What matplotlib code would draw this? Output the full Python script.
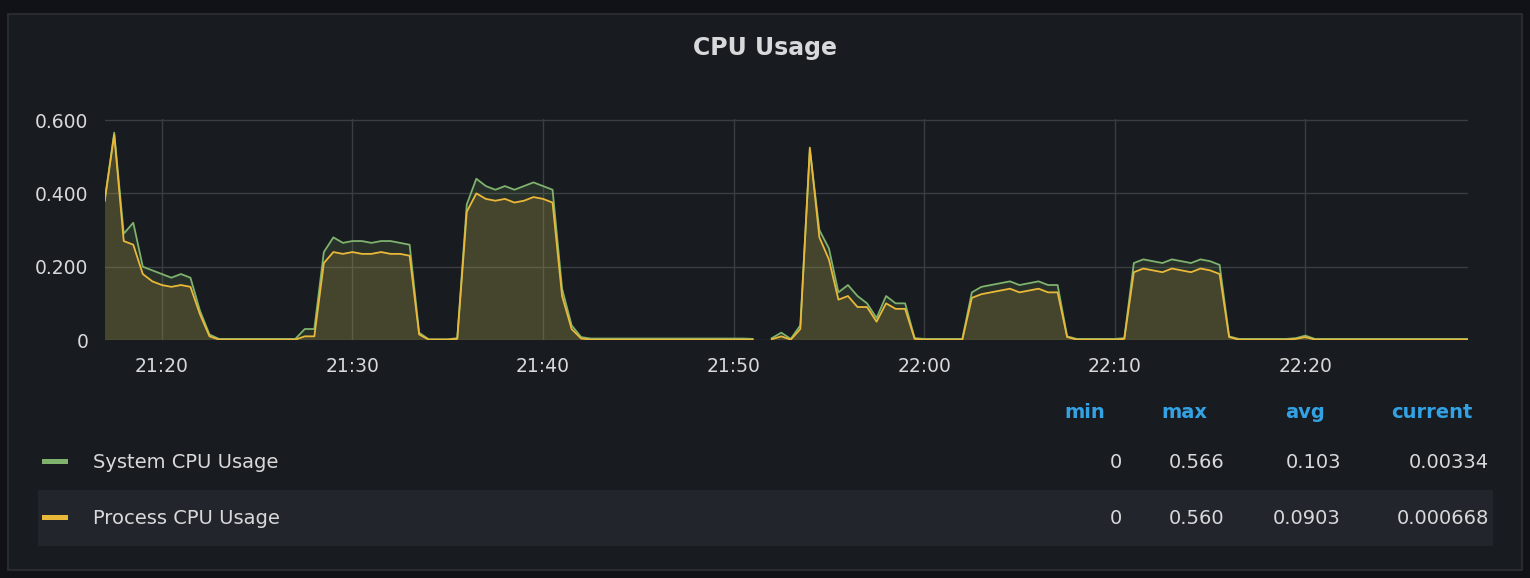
import matplotlib
matplotlib.use("Agg")
import matplotlib.pyplot as plt
import matplotlib.dates as mdates
import numpy as np
import pandas as pd
from matplotlib.patches import Rectangle

nan = float("nan")
start_time = "2021-01-01 21:17:00"
step = "30s"
system_cpu = [0.38, 0.566, 0.29, 0.32, 0.20, 0.19, 0.18, 0.17, 0.18, 0.17,
              0.08, 0.015] + [0.003]*9 + [0.03, 0.03, 0.24, 0.28,
              0.265, 0.27, 0.27, 0.265, 0.27, 0.27, 0.265, 0.26, 0.02,
              0.002, 0.002, 0.002, 0.005, 0.37, 0.44,
              0.42, 0.41, 0.42, 0.41, 0.42, 0.43, 0.42, 0.41, 0.14, 0.04, 0.008] + [0.004]*17 + [
              0.003, nan, 0.005, 0.02, 0.003, 0.04, 0.52, 0.30, 0.25, 0.13, 0.15, 0.12,
              0.10, 0.06, 0.12, 0.10, 0.10, 0.005] + [0.003]*5 + [
              0.13, 0.145, 0.15, 0.155, 0.16, 0.15, 0.155, 0.16, 0.15, 0.15, 0.01] + [0.003]*5 + [
              0.005, 0.21, 0.22, 0.215, 0.21, 0.22, 0.215, 0.21, 0.22, 0.215, 0.205, 0.01] + [0.003]*6 + [
              0.005, 0.012] + [0.003]*17
process_cpu = [0.38, 0.560, 0.27, 0.26, 0.18, 0.16, 0.15, 0.145, 0.15, 0.145,
               0.07, 0.01] + [0.001]*9 + [0.01, 0.01, 0.21, 0.24,
               0.235, 0.24, 0.235, 0.235, 0.24, 0.235, 0.235, 0.23, 0.015,
               0.001, 0.001, 0.001, 0.003, 0.35, 0.40,
               0.385, 0.38, 0.385, 0.375, 0.38, 0.39, 0.385, 0.375, 0.12, 0.03, 0.004] + [0.001]*17 + [
               0.001, nan, 0.002, 0.01, 0.001, 0.03, 0.525, 0.28, 0.22, 0.11, 0.12, 0.09,
               0.09, 0.05, 0.10, 0.085, 0.085, 0.003] + [0.001]*5 + [
               0.115, 0.125, 0.13, 0.135, 0.14, 0.13, 0.135, 0.14, 0.13, 0.13, 0.008] + [0.001]*5 + [
               0.003, 0.185, 0.195, 0.19, 0.185, 0.195, 0.19, 0.185, 0.195, 0.19, 0.18, 0.008] + [0.001]*6 + [
               0.003, 0.008] + [0.001]*17
times = pd.date_range(start_time, periods=len(system_cpu), freq=step)
legend_names = ["System CPU Usage", "Process CPU Usage"]
legend_stats = [["0", "0.566", "0.103", "0.00334"], ["0", "0.560", "0.0903", "0.000668"]]
stat_headers = ["min", "max", "avg", "current"]
colors = ["#7eb26d", "#eab839"]

bg = "#181b1f"
fig = plt.figure(figsize=(15.3, 5.78), dpi=100, facecolor="#111217")
fig.patches.append(Rectangle((8/1530, 8/578), 1514/1530, 556/578, transform=fig.transFigure,
                             facecolor=bg, edgecolor="#2c2f35", lw=1.2, zorder=-5))
fig.text(765/1530, 1-48/578, "CPU Usage", color="#d8d9da", fontsize=17, fontweight="bold",
         ha="center", va="center")

ax = fig.add_axes([105/1530, 1-340/578, 1363/1530, (340-119)/578])
ax.set_facecolor(bg)
for s, c in zip([system_cpu, process_cpu], colors):
    arr = np.array(s, dtype=float)
    ax.plot(times, arr, color=c, lw=1.3)
    ax.fill_between(times, arr, 0, color=c, alpha=0.15, lw=0)
ax.set_xlim(pd.Timestamp("2021-01-01 21:17:01"), pd.Timestamp("2021-01-01 22:28:32"))
ax.set_ylim(0, 0.603)
ax.set_yticks([0, 0.2, 0.4, 0.6])
ax.set_yticklabels(["0", "0.200", "0.400", "0.600"])
ax.xaxis.set_major_locator(mdates.MinuteLocator(byminute=[0, 10, 20, 30, 40, 50]))
ax.xaxis.set_major_formatter(mdates.DateFormatter("%H:%M"))
ax.grid(True, color="#3a3d42", lw=1)
ax.set_axisbelow(True)
for sp in ax.spines.values():
    sp.set_visible(False)
ax.tick_params(colors="#d8d9da", labelsize=13.5, length=0, pad=12)

# legend table
fig.patches.append(Rectangle((38/1530, 1-546/578), 1455/1530, 56/578, transform=fig.transFigure,
                             facecolor="#22252b", edgecolor="none", zorder=-4))
head_x = [1105, 1207, 1325, 1472]
val_x = [1122, 1224, 1341, 1489]
for x, h in zip(head_x, stat_headers):
    fig.text(x/1530, 1-412/578, h, color="#33a2e5", fontsize=14, fontweight="semibold",
             ha="right", va="center")
for k, (name, stats, c) in enumerate(zip(legend_names, legend_stats, colors)):
    y = 1-(462+56*k)/578
    fig.patches.append(Rectangle((42/1530, y-2/578), 26/1530, 5/578, transform=fig.transFigure,
                                 facecolor=c, edgecolor="none"))
    fig.text(93/1530, y, name, color="#d8d9da", fontsize=14, va="center")
    for x, v in zip(val_x, stats):
        fig.text(x/1530, y, v, color="#d8d9da", fontsize=14, ha="right", va="center")

fig.savefig("out.png", dpi=100, facecolor=fig.get_facecolor())
